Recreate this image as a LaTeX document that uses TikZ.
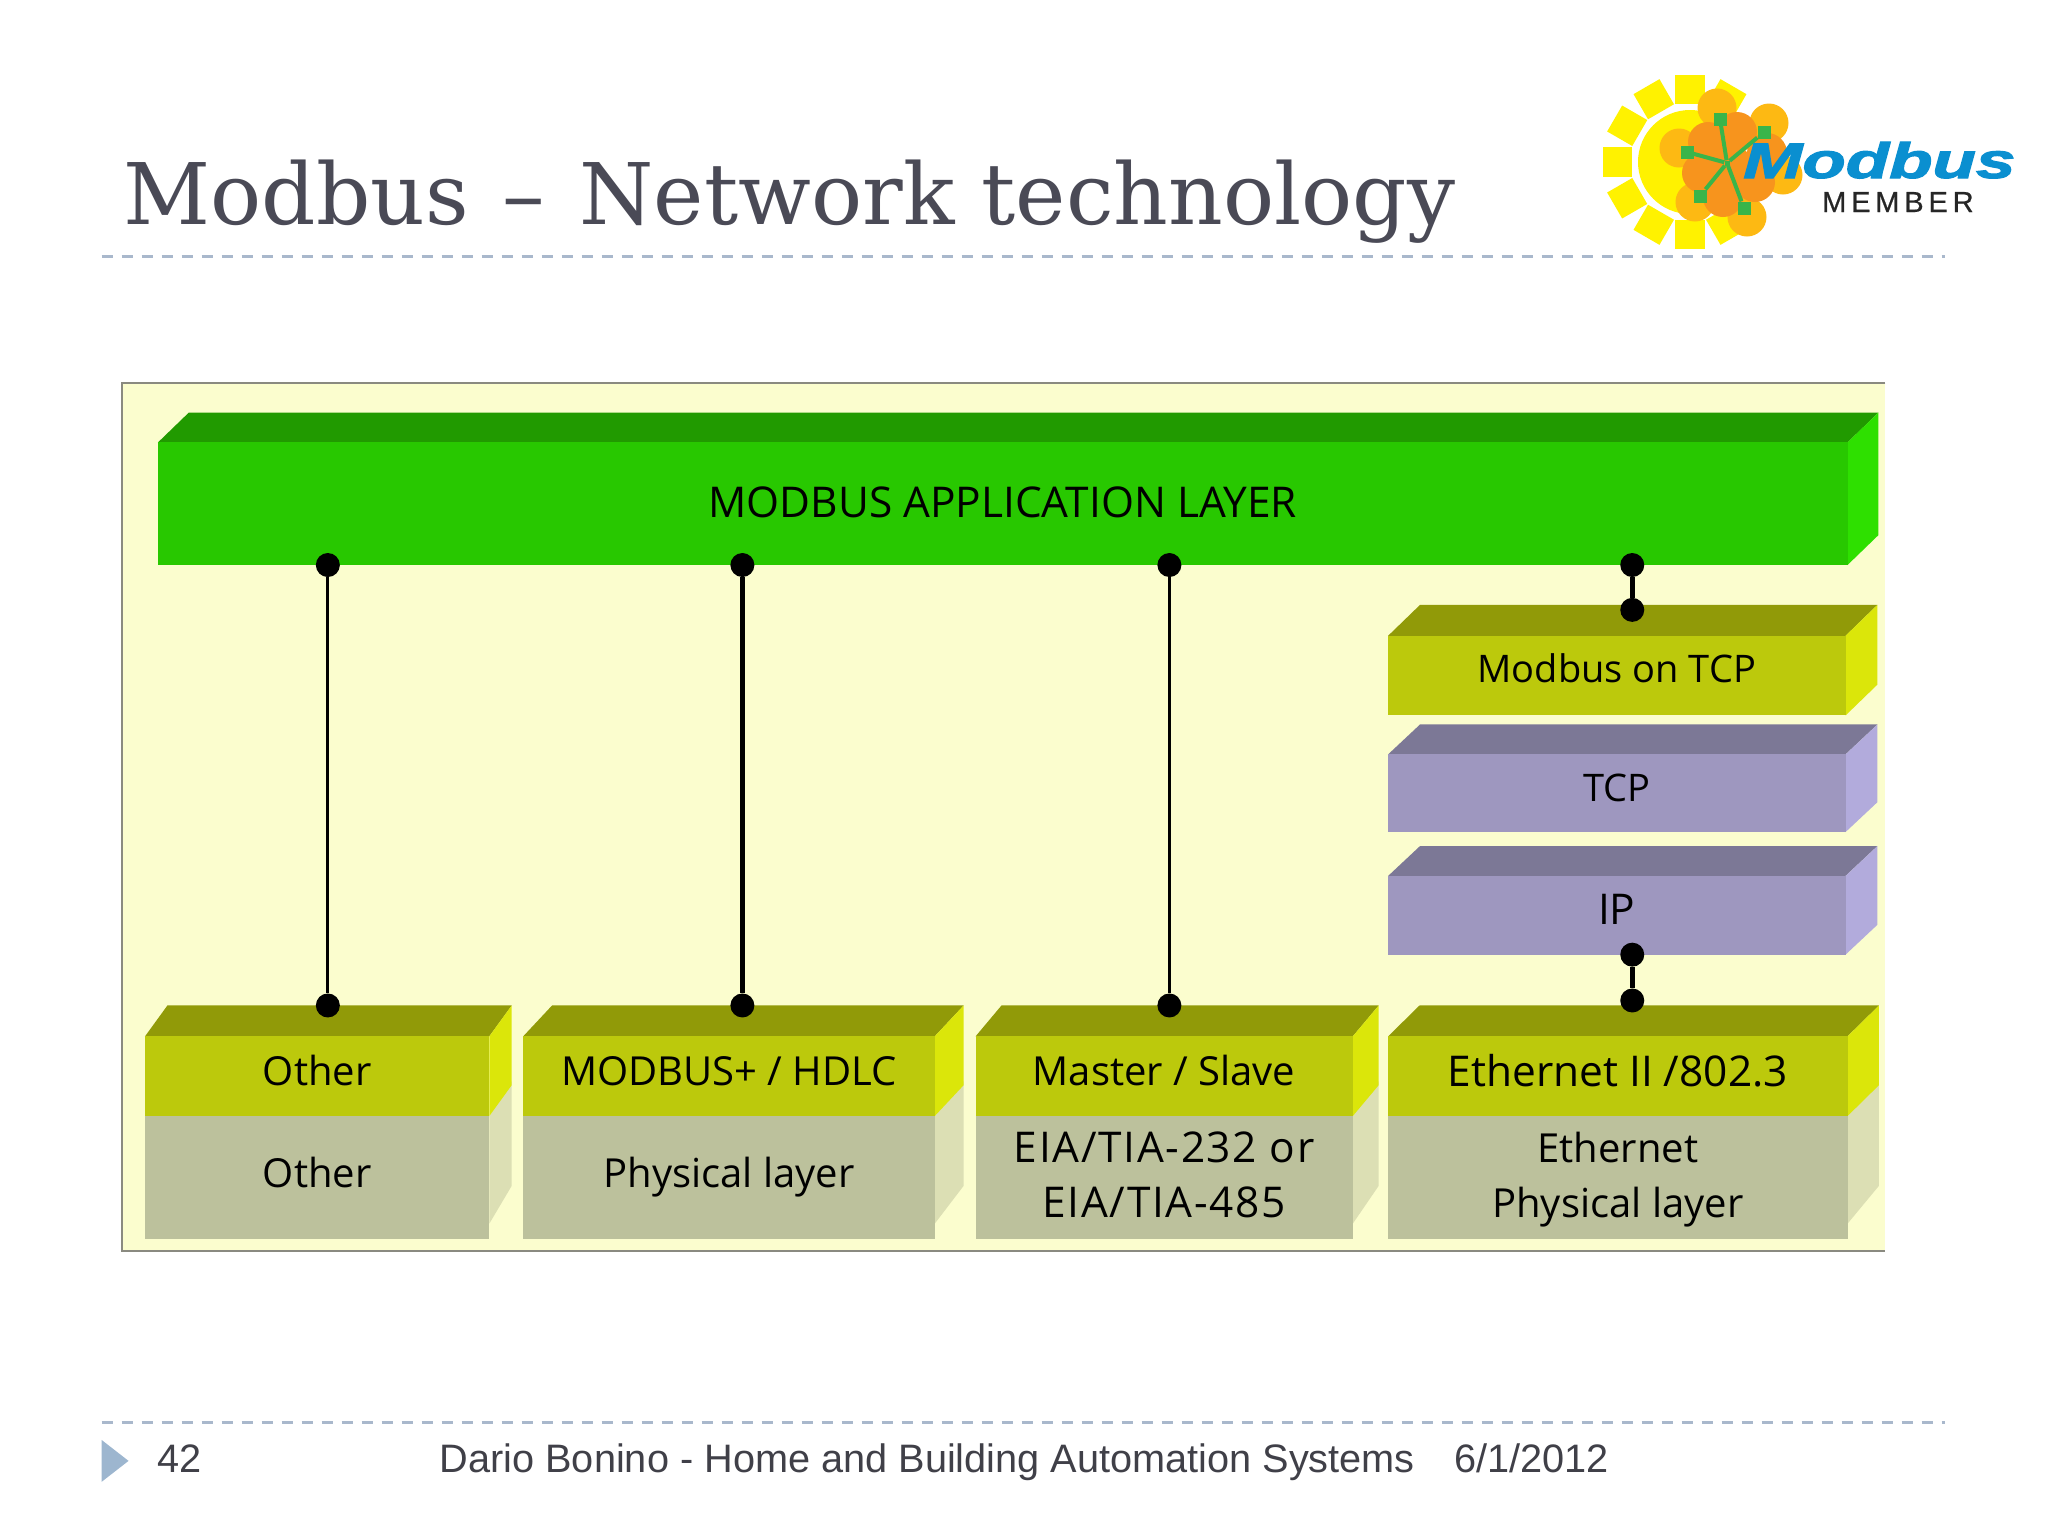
\documentclass[tikz,border=0pt]{standalone}
\usepackage{fontspec}
\setmainfont{Liberation Sans}
\newfontfamily\titlefont{DejaVu Serif}
\newfontfamily\boxfont{Open Sans}
\usepackage{tikz}
\usetikzlibrary{positioning}
\definecolor{framebg}{HTML}{FBFDCE}
\definecolor{frameline}{HTML}{8A8A80}
\definecolor{dashline}{HTML}{A9B8CC}
\definecolor{triblue}{HTML}{9DB6CF}
\definecolor{ink}{HTML}{4A4A56}
\definecolor{footink}{HTML}{404048}
\definecolor{greenfront}{HTML}{28C800}
\definecolor{greentop}{HTML}{219A00}
\definecolor{greenside}{HTML}{2EE000}
\definecolor{olivefront}{HTML}{BCC90C}
\definecolor{olivetop}{HTML}{919A08}
\definecolor{oliveside}{HTML}{DBE60A}
\definecolor{purplefront}{HTML}{9E97BF}
\definecolor{purpletop}{HTML}{7C7896}
\definecolor{purpleside}{HTML}{B2ABDC}
\definecolor{greyfront}{HTML}{BCC19C}
\definecolor{greyside}{HTML}{DCDFB4}
\definecolor{sunyellow}{HTML}{FFF200}
\definecolor{sunlight}{HTML}{FDB913}
\definecolor{sundark}{HTML}{F7941D}
\definecolor{logogreen}{HTML}{39B54A}
\definecolor{logoblue}{HTML}{0A8FD0}
\tikzstyle{dot}=[circle,fill=black,inner sep=0pt,minimum size=24pt]
\tikzstyle{link}=[draw,black]
\tikzstyle{boxtext}=[font=\boxfont\fontsize{40}{55}\selectfont,text=black,align=center,
                inner sep=0pt,outer sep=0pt,text depth=11pt]
\tikzstyle{rule}=[dashline,line width=3pt,dash pattern=on 11pt off 9pt]
\tikzstyle{foot}=[font=\fontsize{39.7}{49}\selectfont,text=footink,anchor=base west,inner sep=0pt]
\tikzstyle{armend}=[fill=logogreen,inner sep=0pt,minimum size=13pt]
\newcommand{\bigtext}{\fontsize{42.4}{55}\selectfont}
\newcommand{\widetext}{\fontsize{42.4}{55}\addfontfeatures{LetterSpace=4}\selectfont}
\newcommand{\smalltext}{\fontsize{38}{55}\selectfont}
\newcommand{\layerbox}[9]{%
  \fill[#8top] (#2,#4) -- (#2+#6,#4-#7) -- (#3+#6,#4-#7) -- (#3,#4) -- cycle;
  \fill[#8side] (#3,#4) -- (#3+#6,#4-#7) -- (#3+#6,#5-#7) -- (#3,#5) -- cycle;
  \node[boxtext,fill=#8front,minimum width=(#3-#2)*0.9965,minimum height=(#5-#4)*0.9965] (#1)
    at ({(#2+#3)/2},{(#4+#5)/2}) {#9};
}
\newcommand{\basebox}[7]{%
  \fill[greyside] (#3,#4) -- (#3+#6,#4-35) -- (#3+#6,#5-53) -- (#3,#5-15) -- cycle;
  \node[boxtext,fill=greyfront,minimum width=(#3-#2)*0.9965,minimum height=(#5-#4)*0.9965] (#1)
    at ({(#2+#3)/2},{(#4+#5)/2}) {#7};
}
\begin{document}
\begin{tikzpicture}[x=0.9965pt,y=-0.9965pt]
\useasboundingbox (0,0) rectangle (2055.2,1541.4);
\node[font=\titlefont\fontsize{85}{100}\selectfont,text=ink,anchor=base west,inner sep=0pt] (title) at (124,225) {Modbus\hspace{6pt} – \hspace{8pt}Network technology};
\coordinate (ruleAl) at (102,257);
\coordinate (ruleAr) at (1952,257);
\coordinate (ruleBl) at (102,1427);
\coordinate (ruleBr) at (1952,1427);
\draw[rule] (ruleAl) -- (ruleAr);
\draw[rule] (ruleBl) -- (ruleBr);

\begin{scope}[x=1pt,y=-1pt]
\foreach \a in {60,90,...,300}
  \fill[sunyellow,shift={(1690,162)},rotate=\a] (58,-15) rectangle (87,15);
\fill[sunyellow] (1690,162) circle (52);
\foreach \cx/\cy in {1717/108,1769/123,1679/148,1695/202,1747/217,1783/175}
  \fill[sunlight] (\cx,\cy) circle (19.5);
\foreach \cx/\cy in {1708/142,1737/132,1702/173,1723/197,1755/182,1767/153,1730/163}
  \fill[sundark] (\cx,\cy) circle (20);
\node[armend,minimum size=5pt] (hub) at (1727,163) {};
\node[armend] (armA) at (1720,119) {};
\node[armend] (armB) at (1764,132) {};
\node[armend] (armC) at (1687,152) {};
\node[armend] (armD) at (1700,196) {};
\node[armend] (armE) at (1744,208) {};
\foreach \n in {armA,armB,armC,armD,armE}
  \draw[logogreen,line width=4pt] (hub) -- (\n);
\node[font=\bfseries\itshape\addfontfeatures{FakeBold=2}\fontsize{50}{50}\selectfont,text=logoblue,anchor=base west,inner sep=0pt,xscale=1.42,transform shape] (logoname) at (1743,178) {Modbus};
\node[font=\addfontfeatures{FakeBold=0.6}\fontsize{29}{29}\selectfont,text=black!85,anchor=base west,inner sep=0pt] (logomember) at (1822,212) {M\,E\,M\,B\,E\,R};
\end{scope}

\fill[framebg] (122,384) rectangle (1892,1255);
\coordinate (frameNE) at (1892,384);
\coordinate (frameNW) at (122,384);
\coordinate (frameSW) at (122,1255);
\coordinate (frameSE) at (1892,1255);
\draw[frameline,line width=2pt] (frameNE) -- (frameNW) -- (frameSW) -- (frameSE);

\begin{scope}[boxtext/.append style={text depth=3pt}]
\layerbox{app}{158.5}{1854}{444}{567}{31}{30}{green}{\bigtext MODBUS APPLICATION LAYER}
\end{scope}
\begin{scope}[boxtext/.append style={text depth=15pt}]
\layerbox{mtcp}{1393}{1852}{638}{718}{32}{31}{olive}{\smalltext Modbus on TCP}
\end{scope}
\layerbox{tcp}{1393}{1852}{757}{835}{32}{30}{purple}{\smalltext TCP}
\layerbox{ip}{1393}{1852}{879}{958}{32}{30}{purple}{\bigtext IP}

\basebox{physA}{145.5}{491}{1120}{1243}{22.5}{Other}
\basebox{physB}{525}{938}{1120}{1243}{29}{Physical layer}
\begin{scope}[boxtext/.append style={text depth=5pt}]
\basebox{physC}{979}{1357.5}{1120}{1243}{26}{\widetext EIA/TIA-232 or\\\widetext EIA/TIA-485}
\basebox{physD}{1393}{1854}{1120}{1243}{31.5}{Ethernet\\Physical layer}
\end{scope}
\layerbox{linkA}{145.5}{491}{1040}{1120}{22.5}{31}{olive}{Other}
\layerbox{linkB}{525}{938}{1040}{1120}{29}{31}{olive}{MODBUS+ / HDLC}
\layerbox{linkC}{979}{1357.5}{1040}{1120}{26}{31}{olive}{Master / Slave}
\layerbox{linkD}{1393}{1854}{1040}{1120}{31.5}{31}{olive}{\bigtext Ethernet II /802.3}

\node[dot] (dotA) at (329,567) {};
\node[dot] (dotAb) at (329,1009) {};
\node[dot] (dotB) at (745,567) {};
\node[dot] (dotBb) at (745,1009) {};
\node[dot] (dotC) at (1173.5,567) {};
\node[dot] (dotCb) at (1173.5,1009) {};
\node[dot] (dotD) at (1638,567) {};
\node[dot] (dotDb) at (1638,612) {};
\node[dot] (dotE) at (1638,958) {};
\node[dot] (dotEb) at (1638,1004) {};
\draw[link,line width=3pt] (dotA) -- (dotAb);
\draw[link,line width=4.5pt] (dotB) -- (dotBb);
\draw[link,line width=3pt] (dotC) -- (dotCb);
\draw[link,line width=4.5pt] (dotD) -- (dotDb);
\draw[link,line width=4.5pt] (dotE) -- (dotEb);

\coordinate (triA) at (102,1445);
\coordinate (triB) at (129,1466);
\coordinate (triC) at (102,1487);
\fill[triblue] (triA) -- (triB) -- (triC) -- cycle;
\node[foot] (page) at (158,1478) {42};
\node[foot] (author) at (441,1478) {Dario Bonino - Home and Building Automation Systems};
\node[foot] (date) at (1459,1478) {6/1/2012};
\end{tikzpicture}
\end{document}
